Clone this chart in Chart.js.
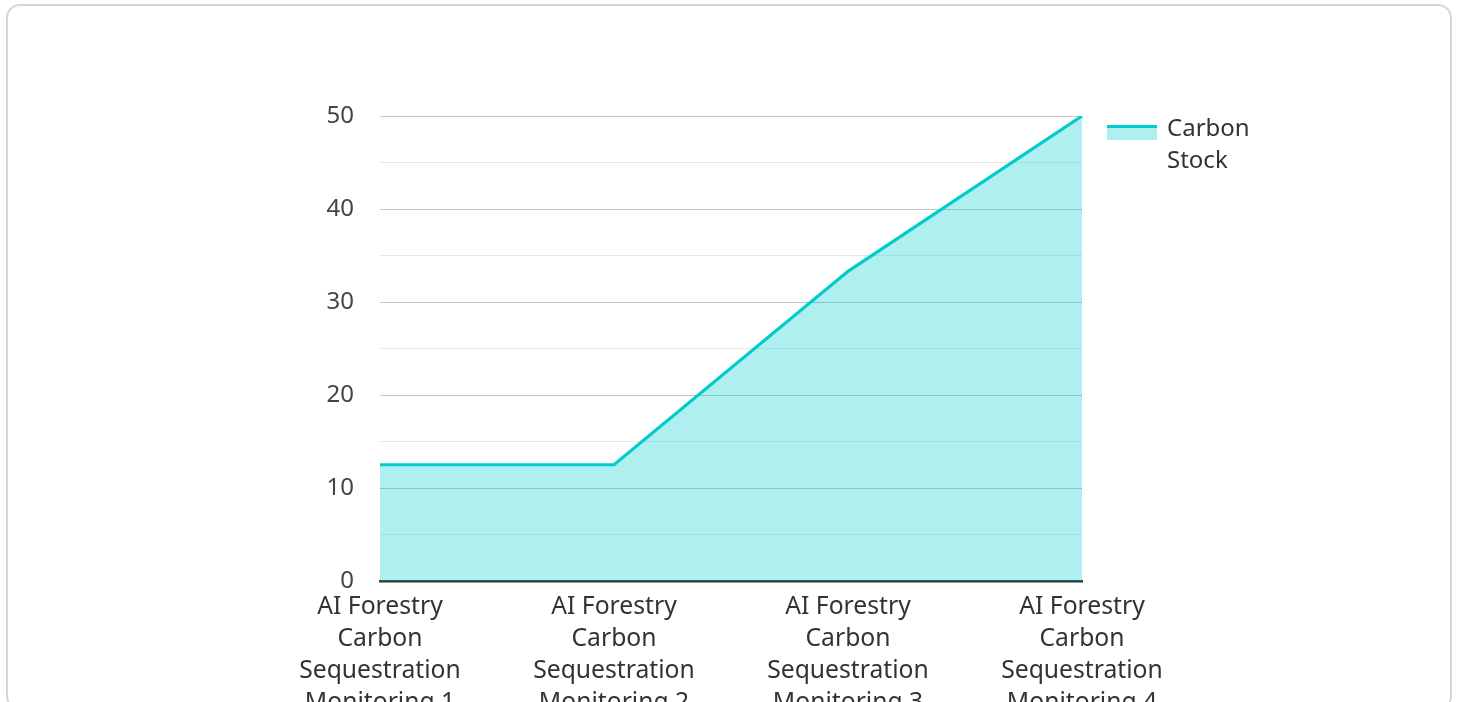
<!DOCTYPE html>
<html>
<head>
<meta charset="utf-8">
<script src="https://cdn.jsdelivr.net/npm/chart.js@4.4.1/dist/chart.umd.min.js"></script>
<style>
  html, body { margin: 0; padding: 0; background: #fff; overflow: hidden; }
  .card {
    position: absolute; left: 6px; top: 4px;
    width: 1446px; height: 706px;
    border: 2px solid #d6d6d6; border-radius: 14px;
    box-sizing: border-box; background: #fff;
  }
  #chart { position: absolute; left: 0; top: 0; }
</style>
</head>
<body>
<div class="card"></div>
<canvas id="chart" width="1458" height="702"></canvas>
<script>
// Monitoring rounds and the carbon stock measured in each
const categories = [
  'AI Forestry Carbon Sequestration Monitoring 1',
  'AI Forestry Carbon Sequestration Monitoring 2',
  'AI Forestry Carbon Sequestration Monitoring 3',
  'AI Forestry Carbon Sequestration Monitoring 4'
];
const carbonStock = [12.5, 12.5, 33.3, 50];
const seriesName = 'Carbon Stock';
const yTickLabels = [0, 10, 20, 30, 40, 50];

const FONT = '"Noto Sans", "Open Sans", sans-serif';
const FONT_SIZE = 24;
const X_FONT_SIZE = 24.7;
const LINE = '#00cccc';
const AREA = 'rgba(0, 204, 204, 0.31)';

const measureCtx = document.createElement('canvas').getContext('2d');
function wrap(text, maxWidth, size) {
  measureCtx.font = size + 'px ' + FONT;
  const words = text.split(' ');
  const lines = [];
  let cur = '';
  for (const w of words) {
    const test = cur ? cur + ' ' + w : w;
    if (cur && measureCtx.measureText(test).width > maxWidth) {
      lines.push(cur);
      cur = w;
    } else {
      cur = test;
    }
  }
  if (cur) lines.push(cur);
  return lines;
}

// Legend drawn beside the plot: a line swatch over its filled area, then the wrapped name
const sideLegend = {
  id: 'sideLegend',
  afterDraw(chart) {
    const { ctx, chartArea } = chart;
    const x = chartArea.right + 25;
    const y = chartArea.top + 9;
    ctx.save();
    ctx.fillStyle = AREA;
    ctx.fillRect(x, y, 50, 15);
    ctx.fillStyle = LINE;
    ctx.fillRect(x, y, 50, 3);
    ctx.fillStyle = '#333';
    ctx.font = FONT_SIZE + 'px ' + FONT;
    ctx.textBaseline = 'alphabetic';
    ctx.textAlign = 'left';
    wrap(chart.data.datasets[0].label, 110, FONT_SIZE).forEach((ln, i) => {
      ctx.fillText(ln, x + 60, y + 11 + i * 32);
    });
    ctx.restore();
  }
};

new Chart(document.getElementById('chart'), {
  type: 'line',
  data: {
    labels: categories,
    datasets: [{
      label: seriesName,
      data: carbonStock,
      borderColor: LINE,
      backgroundColor: AREA,
      borderWidth: 3.2,
      fill: 'origin',
      tension: 0,
      pointRadius: 0,
      pointHoverRadius: 0
    }]
  },
  options: {
    responsive: false,
    animation: false,
    layout: { padding: { top: 116, right: 376, left: 0, bottom: 0 } },
    plugins: {
      legend: { display: false },
      tooltip: { enabled: false }
    },
    scales: {
      x: {
        z: 1,
        offset: false,
        grid: { drawOnChartArea: false, drawTicks: false },
        border: { display: true, color: '#333', width: 2.5 },
        ticks: {
          autoSkip: false,
          maxRotation: 0,
          minRotation: 0,
          padding: 10,
          color: '#333',
          font: { family: FONT, size: X_FONT_SIZE, lineHeight: 32 / X_FONT_SIZE },
          callback: (v, i) => wrap(categories[i], 180, X_FONT_SIZE)
        },
        afterFit: (scale) => { scale.height = 121; }
      },
      y: {
        min: 0,
        max: 50,
        grid: {
          drawTicks: false,
          lineWidth: 1,
          color: (c) => (c.tick && c.tick.value % 10 === 0) ? '#c4c4c4' : '#e8e8e8'
        },
        border: { display: false },
        ticks: {
          stepSize: 5,
          padding: 26,
          color: '#444',
          font: { family: FONT, size: FONT_SIZE },
          callback: (v) => yTickLabels.includes(v) ? String(v) : ''
        },
        afterFit: (scale) => { scale.width = 380; }
      }
    }
  },
  plugins: [sideLegend]
});
</script>
</body>
</html>
